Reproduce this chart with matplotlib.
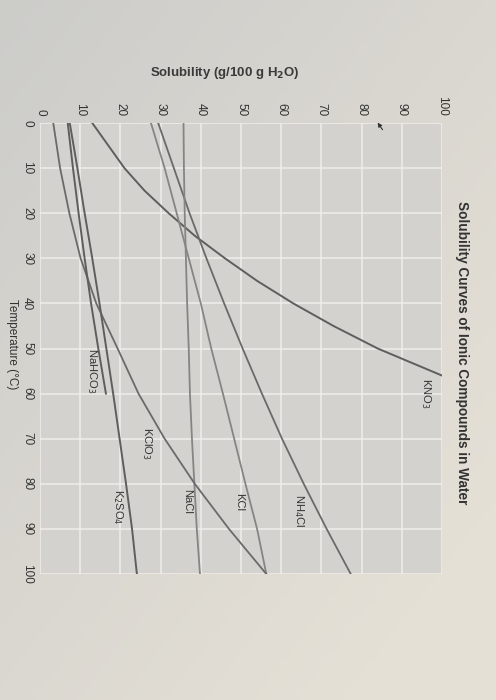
import numpy as np
import matplotlib
matplotlib.use("Agg")
import matplotlib.pyplot as plt

plt.rcParams['font.family'] = ['Liberation Sans Narrow', 'Liberation Sans', 'DejaVu Sans']
plt.rcParams['mathtext.fontset'] = 'custom'
plt.rcParams['mathtext.rm'] = 'Liberation Sans Narrow'
plt.rcParams['mathtext.it'] = 'Liberation Sans Narrow'
plt.rcParams['mathtext.bf'] = 'Liberation Sans Narrow:bold'

# ---- data (temperature in deg C, solubility in g / 100 g water) ----
temps = [0, 10, 20, 30, 40, 50, 60, 70, 80, 90, 100]
kno3_temps = [0, 5, 10, 15, 20, 25, 30, 35, 40, 45, 50, 56]
kno3 = [13, 17, 21, 26, 32, 38.5, 46, 54, 63, 73, 84, 100]
nh4cl = [29.4, 33.3, 37.2, 41.4, 45.8, 50.4, 55.2, 60.2, 65.6, 71.3, 77.3]
kcl = [27.6, 31.0, 34.0, 37.0, 40.0, 42.6, 45.5, 48.3, 51.1, 54.0, 56.3]
nacl = [35.7, 35.8, 36.0, 36.3, 36.6, 37.0, 37.3, 37.8, 38.4, 39.0, 39.8]
kclo3 = [3.3, 5.0, 7.3, 10.1, 14.0, 19.3, 24.5, 31.0, 38.5, 47.0, 56.3]
k2so4 = [7.4, 9.3, 11.1, 13.0, 14.8, 16.5, 18.2, 19.8, 21.4, 22.9, 24.1]
nahco3_temps = [0, 10, 20, 30, 40, 50, 60]
nahco3 = [6.9, 8.2, 9.6, 11.1, 12.7, 14.5, 16.4]

tick_values = [0, 10, 20, 30, 40, 50, 60, 70, 80, 90, 100]
tick_labels = ["0", "10", "20", "30", "40", "50", "60", "70", "80", "90", "100"]

# label positions (solubility, temperature)
curve_labels = [
    ("KNO$_3$", 96, 60),
    ("NH$_4$Cl", 64.5, 86),
    ("KCl", 49.5, 84),
    ("NaCl", 36.5, 84),
    ("KClO$_3$", 26.5, 71),
    ("K$_2$SO$_4$", 19.5, 85),
    ("NaHCO$_3$", 13, 55),
]

W, H = 496, 700
fig = plt.figure(figsize=(W / 100, H / 100), dpi=100)

# photo-like paper background
bg = fig.add_axes([0, 0, 1, 1], zorder=-10)
yy, xx = np.mgrid[0:1:200j, 0:1:140j]
t = np.clip(0.55 * xx + 0.6 * yy, 0, 1)
c0 = np.array([0.80, 0.80, 0.79])
c1 = np.array([0.90, 0.88, 0.84])
img = c0[None, None, :] * (1 - t[..., None]) + c1[None, None, :] * t[..., None]
bg.imshow(img, aspect='auto', extent=[0, 1, 0, 1], origin='upper')
bg.set_axis_off()

ax = fig.add_axes([40 / W, 1 - 574 / H, 402 / W, 451 / H])
ax.set_facecolor('#d3d2ce')
ax.set_xlim(0, 100)
ax.set_ylim(100, 0)
for s in ax.spines.values():
    s.set_visible(False)
ax.xaxis.tick_top()
ax.set_xticks(tick_values)
ax.set_xticklabels(tick_labels, rotation=-90, fontsize=8.5, color='#333333',
                   family=['Liberation Sans', 'DejaVu Sans'])
ax.set_yticks(tick_values)
ax.set_yticklabels(tick_labels, rotation=-90, fontsize=8.5, color='#333333',
                   family=['Liberation Sans', 'DejaVu Sans'], va='center')
ax.tick_params(length=0, pad=5)
ax.grid(True, color='#efeeea', linewidth=1.1)
ax.set_axisbelow(True)

dark = '#5e5e5e'
light = '#858585'
ax.plot(kno3, kno3_temps, color=dark, lw=1.4)
ax.plot(nh4cl, temps, color='#6a6a6a', lw=1.3)
ax.plot(kcl, temps, color=light, lw=1.3)
ax.plot(nacl, temps, color=light, lw=1.3)
ax.plot(kclo3, temps, color='#6a6a6a', lw=1.3)
ax.plot(k2so4, temps, color=dark, lw=1.4)
ax.plot(nahco3, nahco3_temps, color=dark, lw=1.4)

for txt, sx, ty in curve_labels:
    ax.text(sx, ty, txt, rotation=-90, ha='center', va='center', fontsize=8,
            color='#333333')

# small pen mark
ax.annotate('', xy=(83.6, -0.6), xytext=(85.6, 2.0), annotation_clip=False,
            arrowprops=dict(arrowstyle='-|>', color='#333333', lw=0.8,
                            mutation_scale=6))

ax.text(0.46, 1.11, "Solubility (g/100 g H$_\\mathbf{2}$O)", transform=ax.transAxes,
        ha='center', va='center', fontsize=9.5, fontweight='bold', color='#3a3a3a')
fig.text(12 / W, 1 - 344 / H, "Temperature (°C)", rotation=-90, ha='center',
         va='center', fontsize=8.5, color='#333333')
fig.text(462 / W, 1 - 353 / H, "Solubility Curves of Ionic Compounds in Water",
         rotation=-90, ha='center', va='center', fontsize=9.8, fontweight='bold',
         color='#333333')

fig.savefig('out.png', dpi=100, facecolor='#dcd8d0')
